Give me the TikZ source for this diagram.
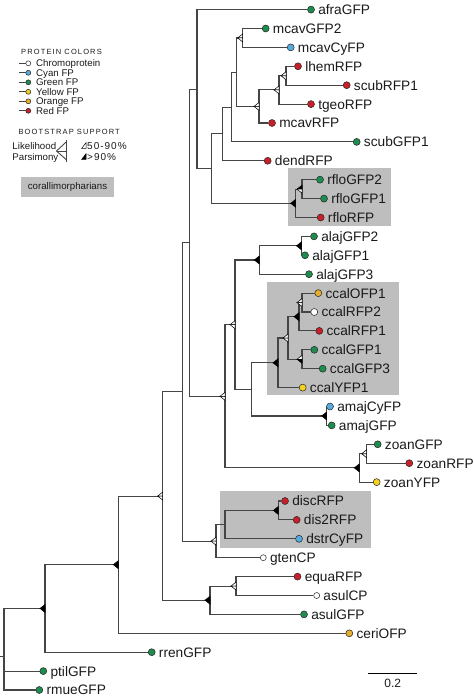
\documentclass[tikz,border=0pt]{standalone}
\usepackage{fontspec}
\setmainfont{Liberation Sans}
\usepackage{tikz}
\usetikzlibrary{positioning,calc}
\definecolor{branchgray}{HTML}{454545}
\definecolor{ink}{HTML}{1A1A1A}
\definecolor{boxgray}{HTML}{BEBEBE}
\definecolor{gfp}{HTML}{1E8C4E}
\definecolor{cfp}{HTML}{55ACDD}
\definecolor{yfp}{HTML}{F2D21E}
\definecolor{ofp}{HTML}{E6AE2A}
\definecolor{rfp}{HTML}{C8202A}

\newcommand{\bsmark}[3]{%
  \filldraw[markline,fill=#2] (#1) -- ++(0,-4) -- ++(-5,4) -- cycle;
  \filldraw[markline,fill=#3] (#1) -- ++(0,4) -- ++(-5,-4) -- cycle;}

\begin{document}
\begin{tikzpicture}[x=1pt,y=-1pt,
  edge/.style={draw=branchgray,line width=1.1pt},
  markline/.style={draw=black,line width=0.5pt,line join=miter},
  tipdot/.style={circle,draw=black!85,line width=0.5pt,inner sep=0pt,minimum size=7pt},
  cpdot/.style={tipdot,minimum size=6pt},
  tiplabel/.style={anchor=base west,inner sep=0pt,xshift=3.3pt,yshift=-4.9pt,font=\fontsize{13.7}{16}\selectfont,text=ink},
  legdot/.style={circle,draw=black!85,line width=0.5pt,inner sep=0pt,minimum size=5pt},
  legtext/.style={anchor=base west,inner sep=0pt,yshift=-3.5pt,font=\fontsize{9.7}{11}\selectfont,text=ink},
  pcttext/.style={anchor=base west,inner sep=0pt,yshift=-3.5pt,font=\fontsize{10}{11}\selectfont\addfontfeature{LetterSpace=10},text=ink},
  headtext/.style={anchor=base west,inner sep=0pt,yshift=-2.7pt,font=\fontsize{7.5}{9}\selectfont\addfontfeature{LetterSpace=15},text=ink}]
\useasboundingbox (0,0) rectangle (474,697);

\fill[boxgray] (287.7,168.3) rectangle (391,225.7);
\fill[boxgray] (267.3,282.3) rectangle (399,395);
\fill[boxgray] (220,491) rectangle (370.7,548.3);

\foreach \i/\name/\x/\col/\st in {0/afraGFP/311/gfp/tipdot,1/mcavGFP2/265.7/gfp/tipdot,2/mcavCyFP/290.7/cfp/tipdot,
  3/lhemRFP/298/rfp/tipdot,4/scubRFP1/346.7/rfp/tipdot,5/tgeoRFP/311/rfp/tipdot,6/mcavRFP/272/rfp/tipdot,
  7/scubGFP1/356.7/gfp/tipdot,8/dendRFP/267.7/rfp/tipdot,9/rfloGFP2/320/gfp/tipdot,10/rfloGFP1/324/gfp/tipdot,
  11/rfloRFP/320.7/rfp/tipdot,12/alajGFP2/314/gfp/tipdot,13/alajGFP1/305/gfp/tipdot,14/alajGFP3/309/gfp/tipdot,
  15/ccalOFP1/318.3/ofp/tipdot,16/ccalRFP2/314.3/white/tipdot,17/ccalRFP1/319.3/rfp/tipdot,18/ccalGFP1/314.3/gfp/tipdot,
  19/ccalGFP3/322.7/gfp/tipdot,20/ccalYFP1/302.7/yfp/tipdot,21/amajCyFP/330/cfp/tipdot,22/amajGFP/331.7/gfp/tipdot,
  23/zoanGFP/377.7/gfp/tipdot,24/zoanRFP/409.3/rfp/tipdot,25/zoanYFP/376.7/yfp/tipdot,26/discRFP/285/rfp/tipdot,
  27/dis2RFP/296.7/rfp/tipdot,28/dstrCyFP/299/cfp/tipdot,29/gtenCP/263.3/white/cpdot,30/equaRFP/297.5/rfp/tipdot,
  31/asulCP/316.7/white/cpdot,32/asulGFP/304/gfp/tipdot,33/ceriOFP/349.3/ofp/tipdot,34/rrenGFP/151.7/gfp/tipdot,
  35/ptilGFP/43.3/gfp/tipdot,36/rmueGFP/39.3/gfp/tipdot}{
  \node[\st,fill=\col] (\name) at (\x,{9.6+18.9*\i}) {};
  \node[tiplabel] (\name-lbl) at (\name.east) {\name};}

\foreach \n/\x/\y in {nMcavPair/242.7/37.95,nLhemScub/286/75.75,nTgeo/279/89.9,nMcavRFP/259/106.45,
  nMcav/236.7/72.2,nScubGFP/231.7/107.05,nDend/222.7/133.9,nRfloPair/302/189.15,nRflo/295.7/203.3,
  nDendRflo/211.7/168.6,nAfra/197/89.1,nAlajPair/301.5/245.85,nAlaj/259.3/260,nCcalA/302/302.55,
  nCcalB/299/316.7,nCcalG/302/359.25,nCcalC/288/338,nCcal/278/362.8,nAmaj/326.7/415.95,
  nCcalAmaj/251.7/389.4,nAlajCcal/235/324.7,nZoanPair/366.7/453.75,nZoan/359.3/467.9,nAnthoA/225/396.3,
  nAnthoB/189.3/242.7,nDiscPair/278.3/510.45,nDisc/225/524.6,nDiscGten/216/541.15,nAnthoC/182.7/391.9,
  nEqua/236/586.05,nAsul/210/600.2,nAnthoD/162.7/496.05,nCeri/118.3/564.7,nRren/45/608.45,nRoot/4/656.7,rootStub/0/656.7}
  {\coordinate (\n) at (\x,\y);}

\draw[edge] (rootStub) -- (nRoot);
\foreach \p/\c in {nAfra/afraGFP,nAfra/nDendRflo,nDendRflo/nDend,nDendRflo/nRflo,nDend/nScubGFP,nDend/dendRFP,
  nScubGFP/nMcav,nScubGFP/scubGFP1,nMcav/nMcavPair,nMcav/nMcavRFP,nMcavPair/mcavGFP2,nMcavPair/mcavCyFP,
  nMcavRFP/nTgeo,nMcavRFP/mcavRFP,nTgeo/nLhemScub,nTgeo/tgeoRFP,nLhemScub/lhemRFP,nLhemScub/scubRFP1,
  nRflo/nRfloPair,nRflo/rfloRFP,nRfloPair/rfloGFP2,nRfloPair/rfloGFP1,
  nAnthoB/nAfra,nAnthoB/nAnthoA,nAnthoA/nAlajCcal,nAnthoA/nZoan,nAlajCcal/nAlaj,nAlajCcal/nCcalAmaj,
  nAlaj/nAlajPair,nAlaj/alajGFP3,nAlajPair/alajGFP2,nAlajPair/alajGFP1,nCcalAmaj/nCcal,nCcalAmaj/nAmaj,
  nCcal/nCcalC,nCcal/ccalYFP1,nCcalC/nCcalB,nCcalC/nCcalG,nCcalB/nCcalA,nCcalB/ccalRFP1,
  nCcalA/ccalOFP1,nCcalA/ccalRFP2,nCcalG/ccalGFP1,nCcalG/ccalGFP3,nAmaj/amajCyFP,nAmaj/amajGFP,
  nZoan/nZoanPair,nZoan/zoanYFP,nZoanPair/zoanGFP,nZoanPair/zoanRFP,
  nAnthoC/nAnthoB,nAnthoC/nDiscGten,nDiscGten/nDisc,nDiscGten/gtenCP,nDisc/nDiscPair,nDisc/dstrCyFP,
  nDiscPair/discRFP,nDiscPair/dis2RFP,nAnthoD/nAnthoC,nAnthoD/nAsul,nAsul/nEqua,nAsul/asulGFP,
  nEqua/equaRFP,nEqua/asulCP,nCeri/nAnthoD,nCeri/ceriOFP,nRren/nCeri,nRren/rrenGFP,
  nRoot/nRren,nRoot/ptilGFP,nRoot/rmueGFP}
  {\draw[edge] (\p) |- (\c);}

\foreach \n/\u/\l in {nMcavPair/white/white,nLhemScub/white/white,nTgeo/white/white,nMcavRFP/white/white,
  nRfloPair/black/white,nRflo/black/black,nAlajPair/black/black,nAlaj/black/black,nCcalA/white/white,
  nCcalB/black/black,nCcalG/white/black,nCcalC/white/white,nCcal/black/black,nAmaj/black/black,
  nAlajCcal/white/white,nZoanPair/white/white,nZoan/black/black,nAnthoA/white/white,nDiscPair/black/black,
  nDiscGten/white/white,nEqua/white/white,nAsul/black/black,nAnthoD/white/white,nCeri/black/black,nRren/black/black}
  {\bsmark{\n}{\u}{\l}}

\node[headtext] (hdColors) at (21,51.7) {PROTEIN COLORS};
\foreach \i/\lbl/\col in {0/Chromoprotein/white,1/Cyan FP/cfp,2/Green FP/gfp,3/Yellow FP/yfp,4/Orange FP/ofp,5/Red FP/rfp}{
  \coordinate (legL\i) at (19,{63.3+9.5*\i});
  \node[legdot,fill=\col] (legD\i) at (28.3,{63.3+9.5*\i}) {};
  \draw[edge,line width=0.9pt] (legL\i) -- (legD\i);
  \node[legtext] (legT\i) at (36,{63.3+9.5*\i}) {\lbl};}

\node[headtext] (hdBoot) at (18.3,132) {BOOTSTRAP SUPPORT};
\node[legtext] (likeLbl) at (12.3,145.7) {Likelihood};
\node[legtext] (parsLbl) at (12.3,156.7) {Parsimony};
\coordinate (legApex) at (56.5,151);
\coordinate (legTop) at (66.7,139.5);
\coordinate (legBot) at (66.7,162);
\coordinate (legUp) at (66.7,141.5);
\coordinate (legDn) at (66.7,160);
\coordinate (legMid) at (66.7,151);
\draw[edge,line width=0.9pt] (legTop) -- (legBot);
\draw[edge,line width=0.9pt] (legUp) -- (legApex) -- (legDn);
\draw[edge,line width=0.9pt] (legApex) -- (legMid);
\draw[markline] (81.7,148.3) -- (86,148.3) -- (86,142.8) -- cycle;
\filldraw[markline,fill=black] (81.7,159.3) -- (86,159.3) -- (86,153.8) -- cycle;
\node[pcttext] (pctLow) at (87,145.7) {50-90\%};
\node[pcttext] (pctHigh) at (87,156.7) {>90\%};

\node[fill=boxgray,minimum width=93.6pt,minimum height=20.6pt,inner sep=0pt,font=\fontsize{9.7}{11}\selectfont,text=ink] (coralKey) at (67.5,187) {corallimorpharians};

\coordinate (barL) at (368.3,673.3);
\coordinate (barR) at (417.3,673.3);
\draw[draw=black,line width=1.1pt] (barL) -- (barR);
\node[anchor=base,inner sep=0pt,font=\fontsize{12}{14}\selectfont,text=ink] (barLbl) at (392.8,687.3) {0.2};
\end{tikzpicture}
\end{document}
